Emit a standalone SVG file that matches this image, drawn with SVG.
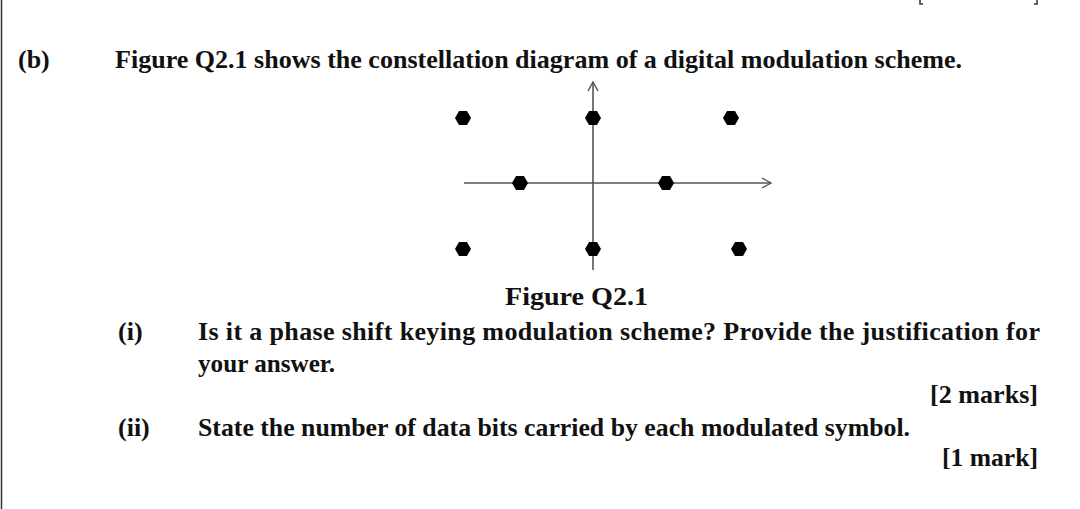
<svg xmlns="http://www.w3.org/2000/svg" width="1080" height="509" viewBox="0 0 1080 509">
<style>
text{font-family:"Liberation Serif","Times New Roman",serif;font-size:26px;fill:#111}
.b{font-weight:bold}
.ax{stroke:#555;stroke-width:1.6;fill:none}
.pt{fill:#000}
</style>
<defs><marker id="ar" markerWidth="12" markerHeight="12" refX="10" refY="6" orient="auto" markerUnits="userSpaceOnUse"><path d="M1,1 L10,6 L1,11" fill="none" stroke="#555" stroke-width="1.4"/></marker>
<polygon id="hx" points="-8,0 -4,-7 4,-7 8,0 4,7 -4,7"/></defs>
<rect width="1080" height="509" fill="#fff"/>
<line x1="1.5" y1="0" x2="1.5" y2="509" stroke="#333" stroke-width="1.5"/>
<path d="M920,0 V4 H923 M1037,0 V4 H1034" stroke="#333" stroke-width="1.5" fill="none"/>
<text x="18" y="68" class="b">(b)</text>
<text x="115" y="68" class="b" textLength="847" lengthAdjust="spacingAndGlyphs">Figure Q2.1 shows the constellation diagram of a digital modulation scheme.</text>
<g id="connectors">
<line class="ax" x1="464" y1="183" x2="771" y2="183" marker-end="url(#ar)"/>
<line class="ax" x1="593" y1="270" x2="593" y2="82" marker-end="url(#ar)"/>
</g>
<g id="points" class="pt">
<use href="#hx" x="463" y="118"/><use href="#hx" x="593" y="118"/><use href="#hx" x="731" y="118"/>
<use href="#hx" x="520" y="183"/><use href="#hx" x="666" y="183"/>
<use href="#hx" x="463" y="249"/><use href="#hx" x="593" y="249"/><use href="#hx" x="739" y="249"/>
</g>
<text x="505" y="305" class="b" textLength="143" lengthAdjust="spacingAndGlyphs">Figure Q2.1</text>
<text x="118" y="340" class="b">(i)</text>
<text x="198" y="340" class="b" textLength="842" lengthAdjust="spacing">Is it a phase shift keying modulation scheme? Provide the justification for</text>
<text x="198" y="372" class="b" textLength="137" lengthAdjust="spacingAndGlyphs">your answer.</text>
<text x="930" y="403" class="b" textLength="108" lengthAdjust="spacingAndGlyphs">[2 marks]</text>
<text x="118" y="436" class="b">(ii)</text>
<text x="198" y="436" class="b" textLength="712" lengthAdjust="spacingAndGlyphs">State the number of data bits carried by each modulated symbol.</text>
<text x="942" y="466" class="b" textLength="96" lengthAdjust="spacingAndGlyphs">[1 mark]</text>
</svg>
